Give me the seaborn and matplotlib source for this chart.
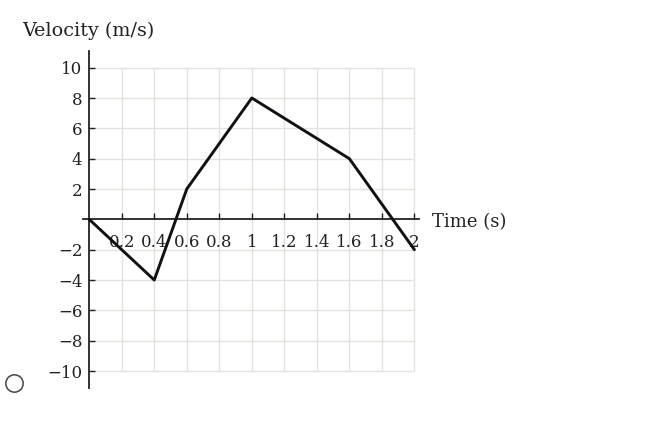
"""
Velocity vs time graph (piecewise linear).
"""
import matplotlib
matplotlib.use("Agg")
import matplotlib.pyplot as plt
from matplotlib.lines import Line2D
import seaborn as sns

# data
time_s = [0.0, 0.4, 0.6, 1.0, 1.6, 2.0]
velocity = [0, -4, 2, 8, 4, -2]
x_ticks = [0.2, 0.4, 0.6, 0.8, 1.0, 1.2, 1.4, 1.6, 1.8, 2.0]
x_labels = ["0.2", "0.4", "0.6", "0.8", "1", "1.2", "1.4", "1.6", "1.8", "2"]
y_ticks = [-10, -8, -6, -4, -2, 2, 4, 6, 8, 10]
y_labels = ["\u221210", "\u22128", "\u22126", "\u22124", "\u22122", "2", "4", "6", "8", "10"]

sns.set_theme(style="white")
plt.rcParams["font.family"] = ["DejaVu Serif"]

W, H = 656, 448
fig = plt.figure(figsize=(W / 100, H / 100), dpi=100)

# axes placed so that the data range lands on the same pixels as the reference
left_px, right_px, top_px, bottom_px = 82.7, 419.3, 51, 387.7
ax = fig.add_axes([left_px / W, 1 - bottom_px / H,
                   (right_px - left_px) / W, (bottom_px - top_px) / H])
ax.set_xlim(-0.04, 2.03)
ax.set_ylim(-11.1, 11.1)

grid_col = "#e2e2de"
ax.vlines(x_ticks, -10, 10, color=grid_col, linewidth=1, zorder=0)
ax.hlines(y_ticks, 0, 2, color=grid_col, linewidth=1, zorder=0)

sns.lineplot(x=time_s, y=velocity, ax=ax, color="#111111", linewidth=2.1, zorder=3)

# axes through the origin
for side in ["top", "right"]:
    ax.spines[side].set_visible(False)
ax.spines["left"].set_position(("data", 0))
ax.spines["bottom"].set_position(("data", 0))
for side in ["left", "bottom"]:
    ax.spines[side].set_color("#222222")
    ax.spines[side].set_linewidth(1.3)

ax.set_xticks(x_ticks)
ax.set_xticklabels(x_labels)
ax.set_yticks(y_ticks)
ax.set_yticklabels(y_labels)
ax.tick_params(axis="both", direction="in", length=4.5, width=1, color="#222222",
               labelsize=12, labelcolor="#222222", bottom=True, left=True)
ax.tick_params(axis="x", pad=10.5)
ax.tick_params(axis="y", pad=5)
ax.set_xlabel("")
ax.set_ylabel("")

# axis titles
fig.text(22 / W, 1 - 36 / H, "Velocity (m/s)", fontsize=13.8, color="#222222",
         ha="left", va="baseline")
fig.text(432 / W, 1 - 227 / H, "Time (s)", fontsize=13, color="#222222",
         ha="left", va="baseline")

# answer choice radio button
fig.add_artist(Line2D([14 / W], [1 - 382.5 / H], transform=fig.transFigure,
                      marker="o", markersize=12.5, markerfacecolor="white",
                      markeredgecolor="#444444", markeredgewidth=1.1, linestyle="none"))

fig.savefig("out.png", dpi=100)
